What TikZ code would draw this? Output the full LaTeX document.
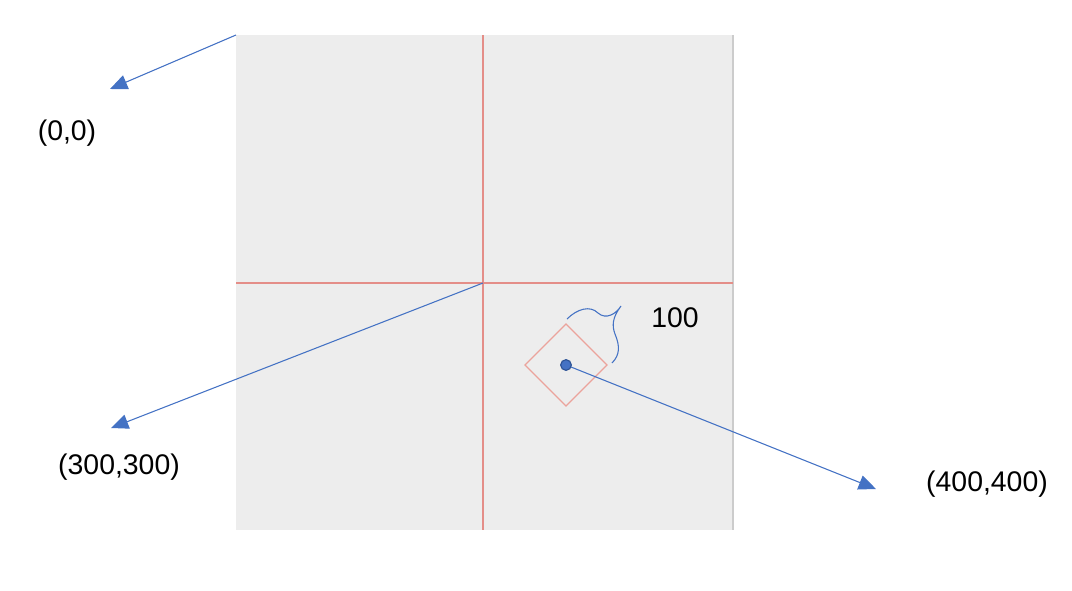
\documentclass[tikz,border=0pt]{standalone}
\usepackage{fontspec}
\setmainfont{Liberation Sans}
\usetikzlibrary{arrows.meta}
\definecolor{panel}{HTML}{EDEDED}
\definecolor{axisred}{HTML}{E48E88}
\definecolor{diamondred}{HTML}{EBA39C}
\definecolor{blueline}{HTML}{4472C4}
\definecolor{bluedark}{HTML}{2F5597}
\tikzset{
  pointer/.style={draw=blueline, line width=0.8pt, -{Triangle[length=13pt,width=11pt]}},
  label/.style={font=\fontsize{21.3}{25}\selectfont, inner sep=0pt, text=black},
}
\begin{document}
\begin{tikzpicture}[x=0.75pt,y=-0.75pt]
\useasboundingbox (0,0) rectangle (1072,590);
% panel
\fill[panel] (236,35) rectangle (733,530);
\draw[gray!40, line width=0.8pt] (733,35) -- (733,530);
% axes
\coordinate (origin) at (236,35);
\coordinate (center) at (483,283);
\draw[axisred, line width=0.8pt] (483,35) -- (483,530);
\draw[axisred, line width=0.8pt] (236,283) -- (733,283);
% diamond
\coordinate (pt) at (566,365);
\draw[diamondred, line width=0.9pt] (525,365) -- (566,324) -- (607,365) -- (566,406) -- cycle;
% brace
\draw[blueline, line width=0.8pt] (567,319) .. controls (577,309) and (590,305) .. (598,313)
  .. controls (606,320) and (616,314) .. (621,306)
  .. controls (612,318) and (612,326) .. (615,334)
  .. controls (620,346) and (620,355) .. (612,363);
% labels
\node[label] (lbl0) at (67,133) {(0,0)};
\node[label] (lbl300) at (119,467) {(300,300)};
\node[label] (lbl400) at (987,484) {(400,400)};
\node[label] (lbl100) at (675,318) {100};
% arrow tips
\coordinate (tip0) at (110,89);
\coordinate (tip300) at (111,428);
\coordinate (tip400) at (876,489);
\draw[pointer] (origin) -- (tip0);
\draw[pointer] (center) -- (tip300);
\draw[pointer] (pt) -- (tip400);
% dot
\node[circle, fill=blueline, draw=bluedark, line width=0.9pt, minimum size=8pt, inner sep=0pt] (dot) at (pt) {};
\end{tikzpicture}
\end{document}
